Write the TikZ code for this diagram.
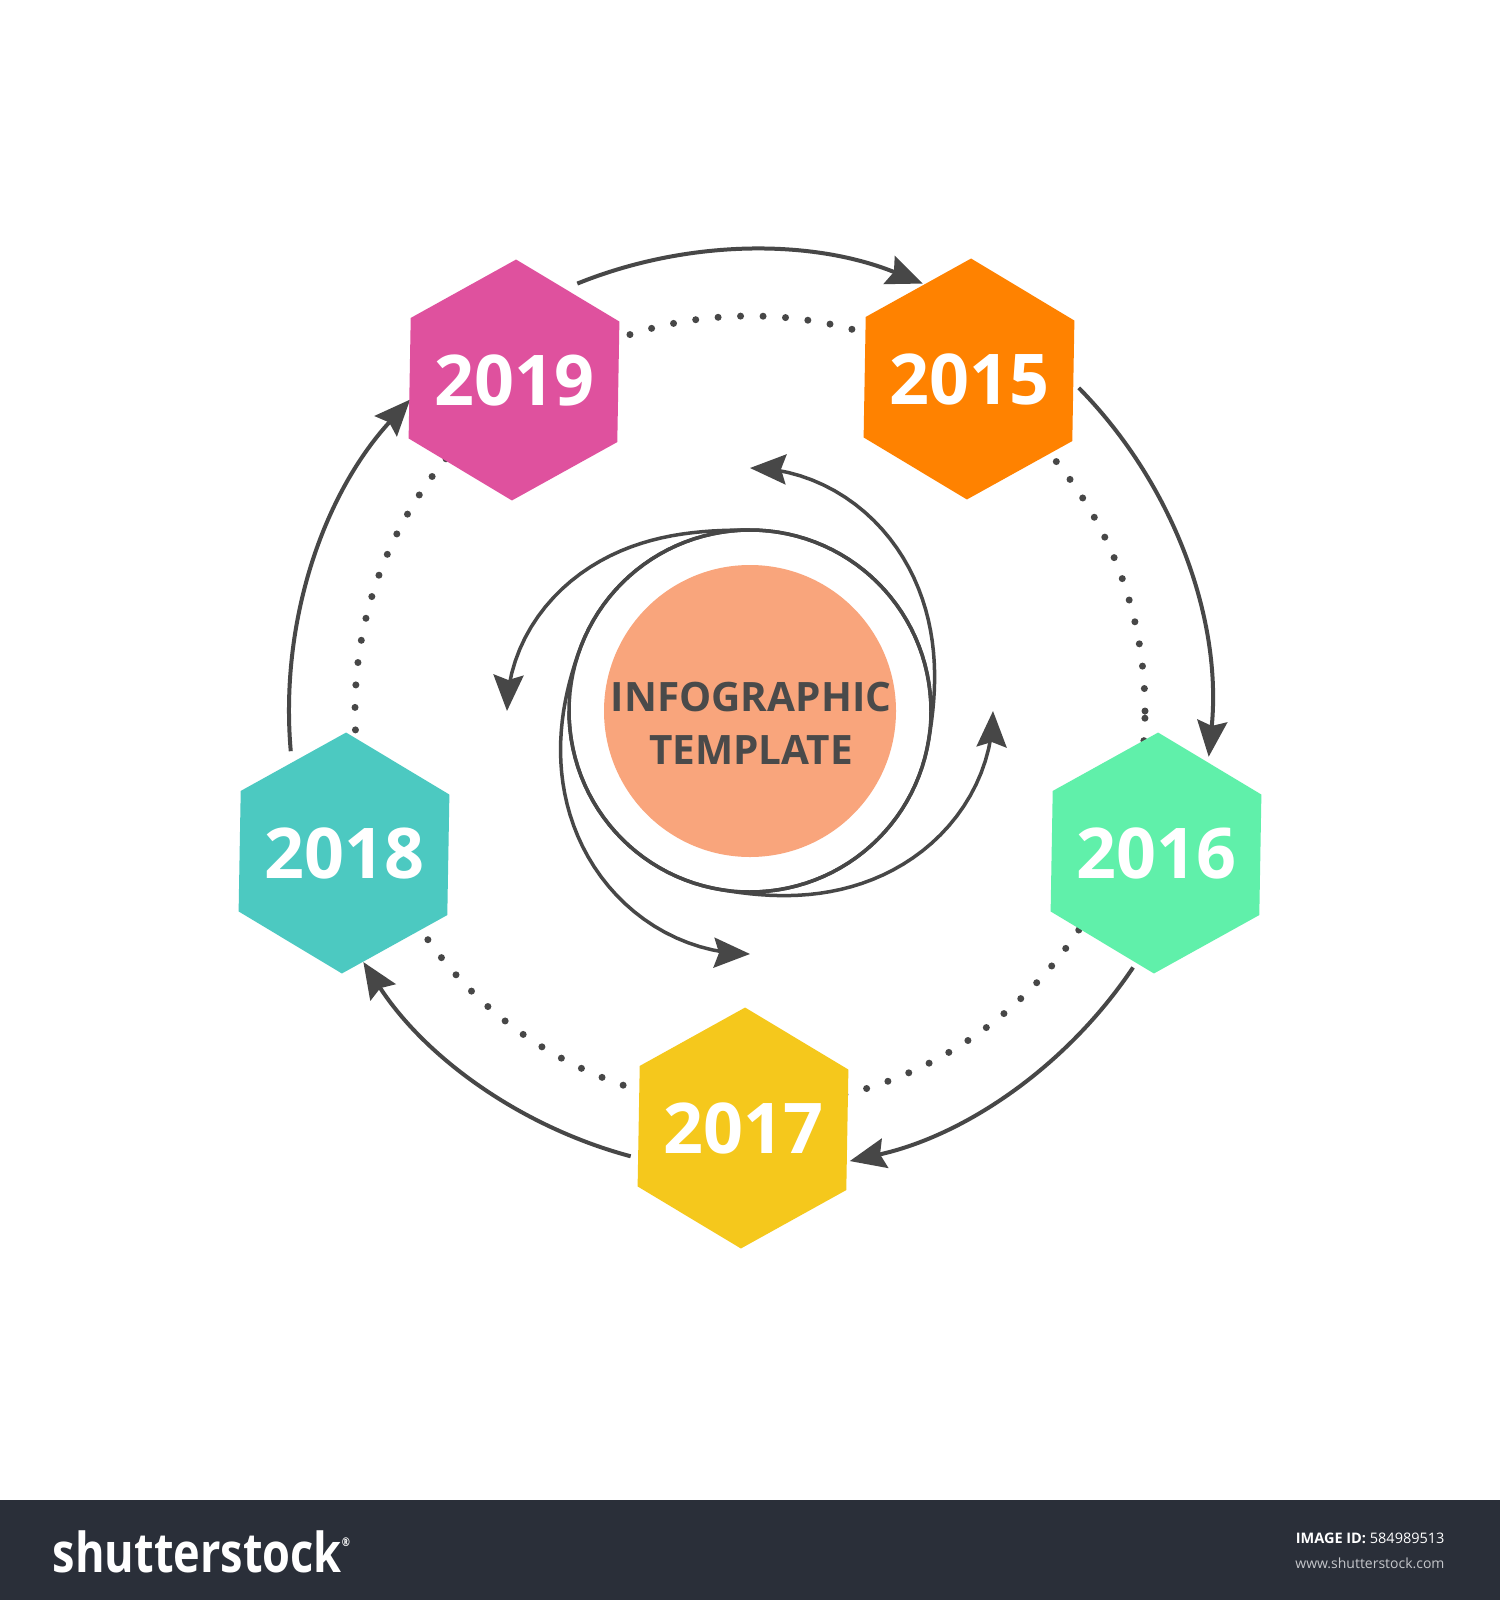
\documentclass[tikz,border=0pt]{standalone}
\usepackage{fontspec}
\setmainfont{Open Sans}
\usepackage{xcolor}
\usepackage{tikz}
\usetikzlibrary{shapes.geometric}
\usetikzlibrary{arrows.meta}
\definecolor{pinkhex}{HTML}{DF519E}
\definecolor{orangehex}{HTML}{FF8200}
\definecolor{greenhex}{HTML}{60F0AA}
\definecolor{yellowhex}{HTML}{F5C81C}
\definecolor{tealhex}{HTML}{4CC9C1}
\definecolor{hubfill}{HTML}{F9A57C}
\definecolor{linegray}{HTML}{474747}
\definecolor{textgray}{HTML}{4A4A4A}
\definecolor{barcol}{HTML}{2A2F39}
\definecolor{urlgray}{HTML}{C4C6CA}
\newcommand{\yr}[1]{\makebox[0pt]{#1}}
\tikzset{
    hexnode/.style = {regular polygon, regular polygon sides=6, shape border rotate=29, minimum size=241pt, inner sep=0pt, text=white, font=\fontsize{70}{80}\selectfont\bfseries},
    hubnode/.style = {circle, fill=hubfill, minimum size=292pt, inner sep=0pt},
    hubtext/.style = {align=center, text=textgray, font=\fontsize{40.5}{53}\selectfont\bfseries},
}

\begin{document}
\begin{tikzpicture}[
	x=1pt, y=1pt,
	declare function={spr(\d,\l)=181+(\d<\l)*62*(1-\d/\l)*(1-\d/\l)*(1+2*\d/\l);}
]
\tikzset{
    edgeo/.style = {-{Stealth[length=36pt, width=30pt, inset=5pt]}, line width=4pt, linegray},
    edgei/.style = {-{Stealth[length=36pt, width=30pt, inset=5pt]}, line width=3.5pt, linegray},
    edged/.style = {line width=7pt, line cap=round, dash pattern=on 0pt off 22.5pt, linegray},
}
\useasboundingbox (0,0) rectangle (1500,-1600);
\fill[white] (0,0) rectangle (1500,-1600);
\node[hubnode] at (750,-711) (hub) {};
\draw[edged] (hub.center) circle[radius=395pt];
\draw[edgeo] ([shift={(112:461)}]hub.center) arc[start angle=112, end angle=68, radius=461pt];
\draw[edgeo] ([shift={(44.5:461)}]hub.center) arc[start angle=44.5, end angle=-5.7, radius=461pt];
\draw[edgeo] ([shift={(-33.8:461)}]hub.center) arc[start angle=-33.8, end angle=-77.5, radius=461pt];
\draw[edgeo] ([shift={(-105:461)}]hub.center) arc[start angle=-105, end angle=-147, radius=461pt];
\draw[edgeo] ([shift={(185:461)}]hub.center) arc[start angle=185, end angle=137.5, radius=461pt];
\node[hexnode, fill=pinkhex] at (514,-380) (h2019) {\yr{2019}};
\node[hexnode, fill=orangehex] at (969,-379) (h2015) {\yr{2015}};
\node[hexnode, fill=greenhex] at (1156,-853) (h2016) {\yr{2016}};
\node[hexnode, fill=yellowhex] at (743,-1128) (h2017) {\yr{2017}};
\node[hexnode, fill=tealhex] at (344,-853) (h2018) {\yr{2018}};
\draw[edgei, shift={(hub.center)}] plot[domain=270:0, samples=91, variable=\d] ({spr(\d,100)*cos(90-\d)}, {spr(\d,100)*sin(90-\d)});
\draw[edgei, shift={(hub.center)}] plot[domain=270:0, samples=91, variable=\d] ({spr(\d,90)*cos(180-\d)}, {spr(\d,90)*sin(180-\d)});
\draw[edgei, shift={(hub.center)}] plot[domain=270:0, samples=91, variable=\d] ({spr(\d,110)*cos(270-\d)}, {spr(\d,110)*sin(270-\d)});
\draw[edgei, shift={(hub.center)}] plot[domain=270:0, samples=91, variable=\d] ({spr(\d,100)*cos(360-\d)}, {spr(\d,100)*sin(360-\d)});
\node[hubtext] at (751,-723) (title) {INFOGRAPHIC\\TEMPLATE};
\fill[barcol] (0,-1500) rectangle (1500,-1600);
\node[anchor=west, text=white, xscale=0.82, font=\fontsize{55}{60}\selectfont\bfseries] at (50,-1552) (logo) {shutterstock\raisebox{26pt}{\fontsize{12}{12}\selectfont ®}};
\node[anchor=east, text=white, font=\fontsize{14.5}{17}\selectfont] at (1448,-1538) (imgid) {\textbf{IMAGE ID:} 584989513};
\node[anchor=east, text=urlgray, font=\fontsize{14}{17}\selectfont] at (1448,-1563) (url) {www.shutterstock.com};

\end{tikzpicture}
\end{document}
